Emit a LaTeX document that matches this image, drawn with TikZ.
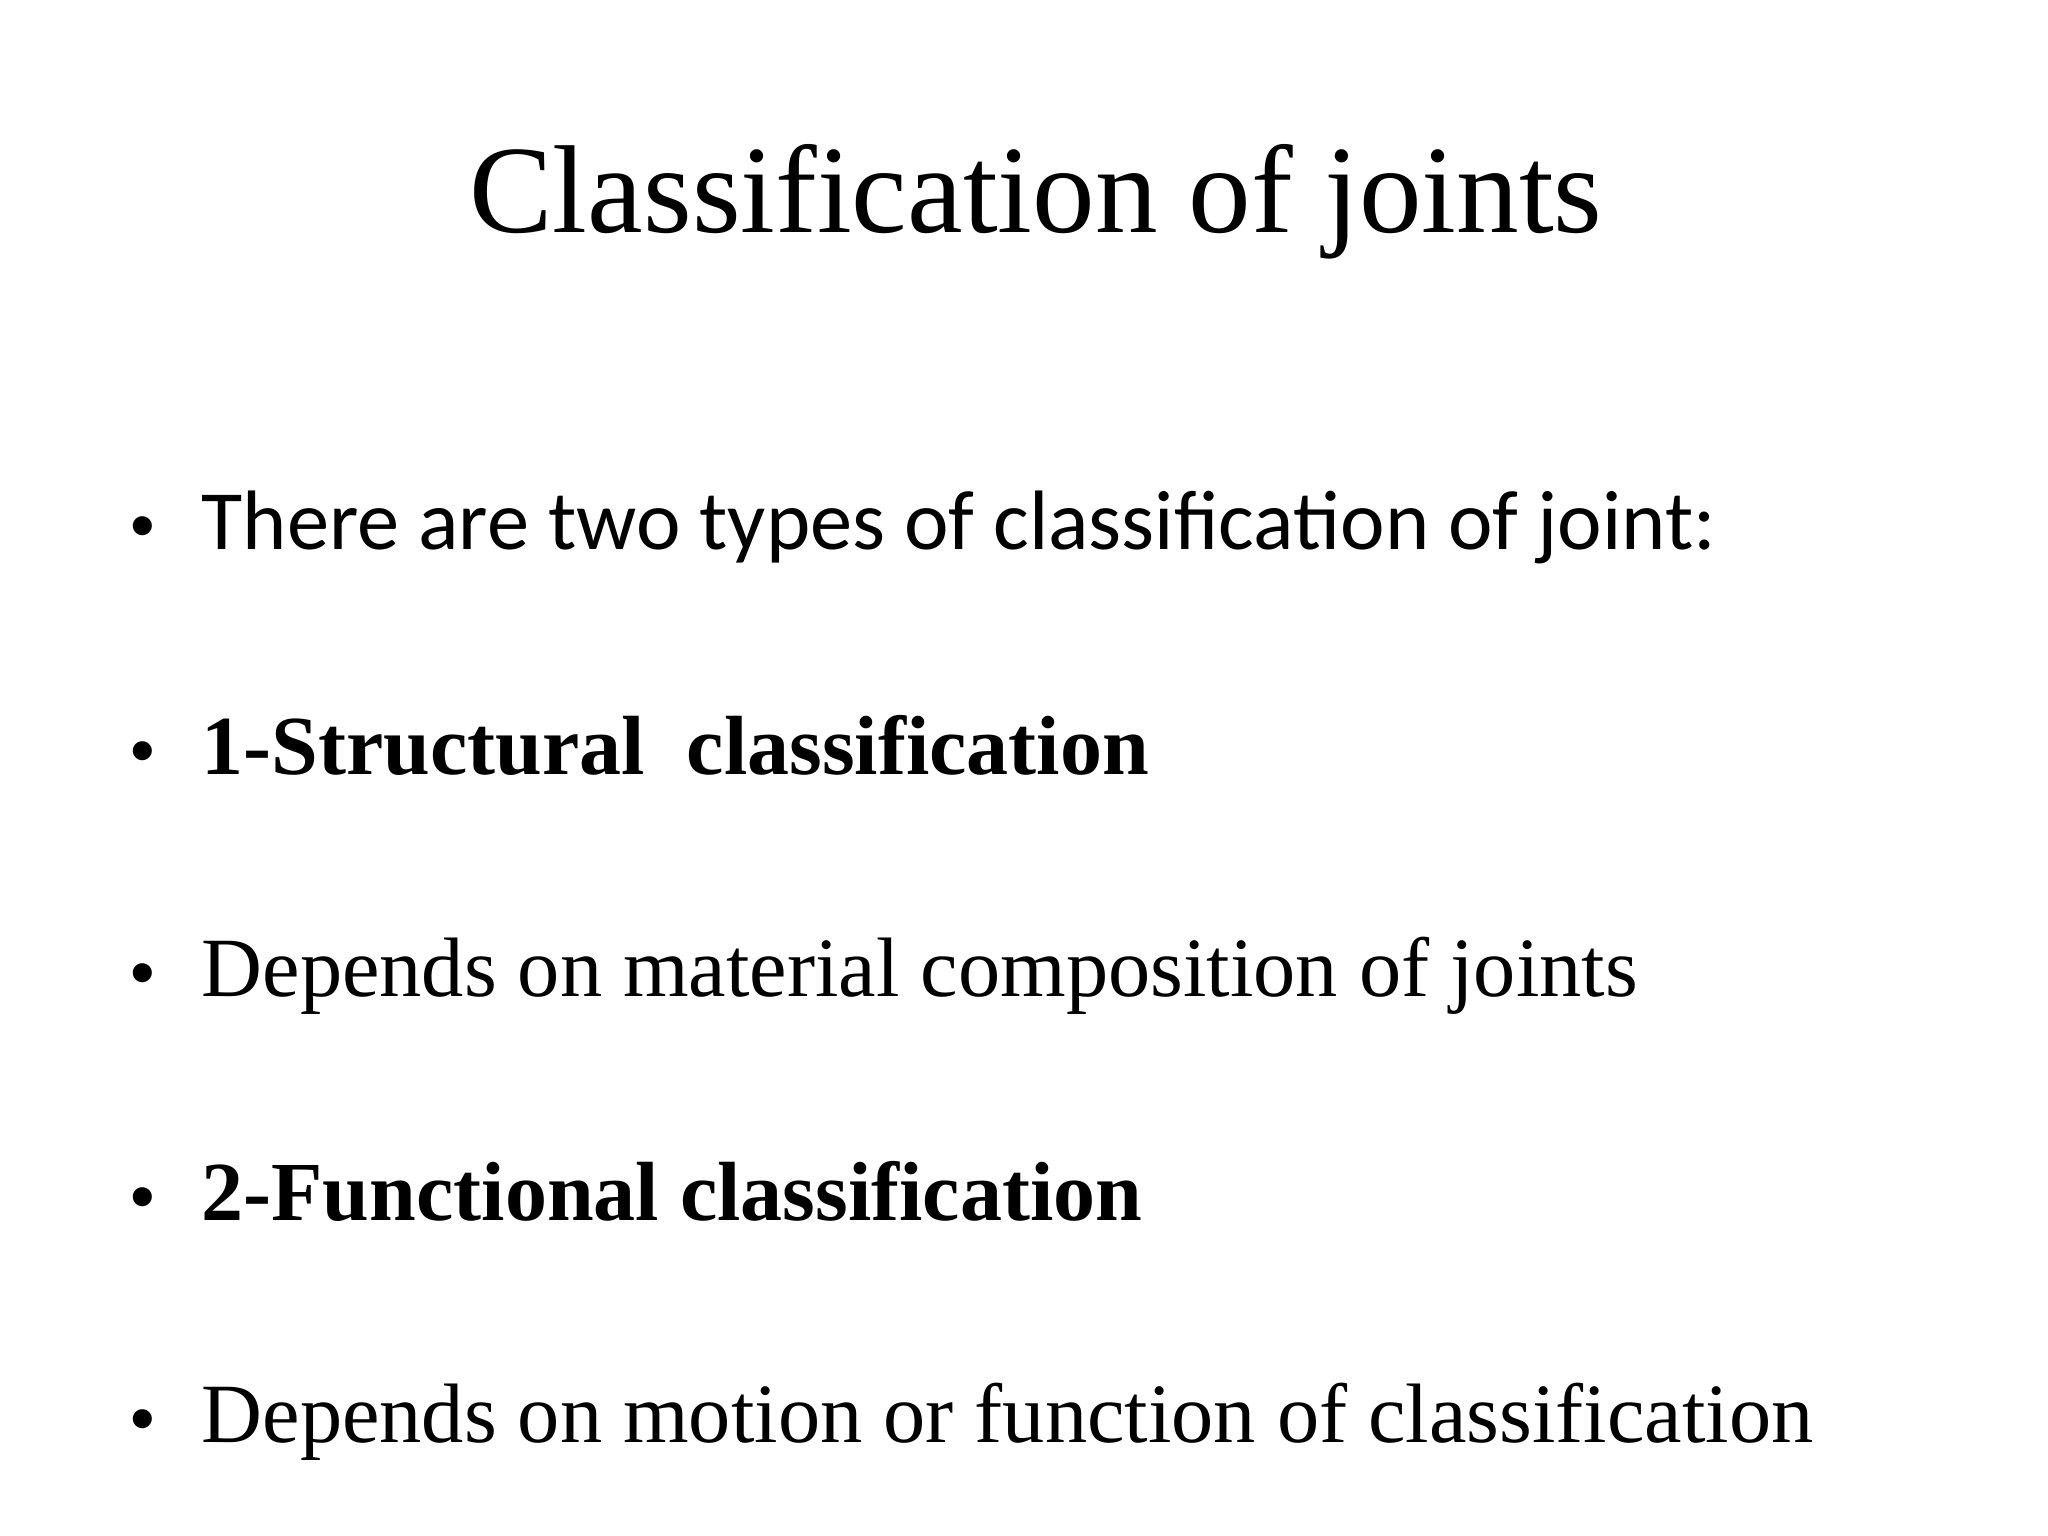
\documentclass[tikz,border=0pt]{standalone}
\usepackage{fontspec}
\setmainfont{Liberation Serif}
\newfontfamily\carlitofont{Carlito}
\newfontfamily\arialfont{Liberation Sans}
\begin{document}
\begin{tikzpicture}[
  tx/.style={anchor=base west,inner sep=0pt,font=\fontsize{24pt}{28pt}\selectfont},
  bl/.style={anchor=base west,inner sep=0pt,font=\arialfont\fontsize{20pt}{24pt}\selectfont}]
\useasboundingbox[fill=white] (0,0) rectangle (20.48,15.36);
\node[anchor=base,inner sep=0pt,font=\fontsize{35.6pt}{42pt}\selectfont] (title) at (10.36,13.03) {Classification of joints};
\foreach \y [count=\i] in {9.86,7.61,5.39,3.15,0.93}{
  \node[bl] (b\i) at (1.3,\y) {•};
}
\node[tx,font=\carlitofont\fontsize{24pt}{28pt}\selectfont] (l1) at (2.01,9.86) {There are two types of classification of joint:};
\node[tx,font=\bfseries\fontsize{23.9pt}{28pt}\selectfont] (l2) at (2.01,7.61) {1-Structural\ \ classification};
\node[tx] (l3) at (2.01,5.39) {Depends on material composition of joints};
\node[tx,font=\bfseries\fontsize{23.9pt}{28pt}\selectfont] (l4) at (2.01,3.15) {2-Functional classification};
\node[tx] (l5) at (2.01,0.93) {Depends on motion or function of classification};
\end{tikzpicture}
\end{document}
